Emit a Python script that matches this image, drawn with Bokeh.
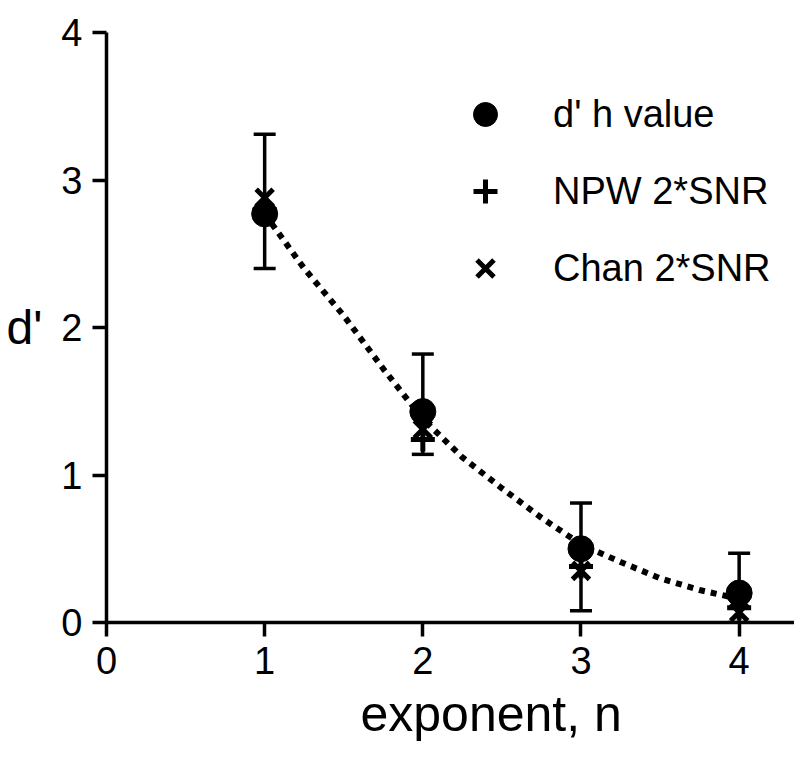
from bokeh.plotting import figure
from bokeh.models import (Range1d, FixedTicker, Whisker, TeeHead, ColumnDataSource,
                          Legend, LegendItem, Title)
from bokeh.embed import file_html
from bokeh.resources import INLINE

# ---- data ----
exponent = [1, 2, 3, 4]
dh_value = [2.77, 1.43, 0.50, 0.20]
dh_upper = [3.31, 1.82, 0.81, 0.47]
dh_lower = [2.40, 1.14, 0.08, 0.0]
npw_2snr = [2.80, 1.24, 0.38, 0.10]
chan_2snr = [2.88, 1.31, 0.35, 0.07]
fit_x = [1.0, 1.25, 1.5, 1.75, 2.0, 2.25, 2.5, 2.75, 3.0, 3.25, 3.5, 3.75, 4.0]
fit_y = [2.77, 2.40, 2.08, 1.72, 1.38, 1.12, 0.91, 0.71, 0.53, 0.41, 0.30, 0.22, 0.16]
x_ticks = [0, 1, 2, 3, 4]
y_ticks = [0, 1, 2, 3, 4]

FONT = "Liberation Sans"

p = figure(width=794, height=756, output_backend="svg", toolbar_location=None,
           x_range=Range1d(0, 4.35), y_range=Range1d(0, 4),
           min_border_left=106, min_border_right=0, min_border_top=32, min_border_bottom=134)
p.outline_line_color = None
p.background_fill_color = "white"
p.border_fill_color = "white"
p.xgrid.visible = False
p.ygrid.visible = False

for ax in (p.xaxis[0], p.yaxis[0]):
    ax.axis_line_width = 3.5
    ax.axis_line_color = "black"
    ax.major_tick_line_width = 3.5
    ax.major_tick_line_color = "black"
    ax.major_tick_out = 14
    ax.major_tick_in = 0
    ax.minor_tick_line_color = None
    ax.major_label_text_font = FONT
    ax.major_label_text_font_size = "38px"
    ax.major_label_text_color = "black"
    ax.major_label_standoff = 10
p.xaxis[0].ticker = FixedTicker(ticks=x_ticks)
p.yaxis[0].ticker = FixedTicker(ticks=y_ticks)

p.yaxis[0].axis_label = "d'"
p.yaxis[0].axis_label_orientation = "horizontal"
p.yaxis[0].axis_label_text_font = FONT
p.yaxis[0].axis_label_text_font_size = "48px"
p.yaxis[0].axis_label_text_font_style = "normal"
p.yaxis[0].axis_label_text_color = "black"
p.yaxis[0].axis_label_standoff = 16

# fitted dotted curve
p.line(fit_x, fit_y, line_color="black", line_width=6, line_dash="6 6")

# error bars
src = ColumnDataSource(dict(x=exponent, y=dh_value, upper=dh_upper, lower=dh_lower))
w = Whisker(source=src, base="x", upper="upper", lower="lower", line_width=3.5,
            line_color="black",
            upper_head=TeeHead(size=22, line_width=3.5, line_color="black"),
            lower_head=TeeHead(size=22, line_width=3.5, line_color="black"))
p.add_layout(w)

r_x = p.scatter(exponent, chan_2snr, marker="x", size=24, line_width=5, line_color="black")
r_plus = p.scatter(exponent, npw_2snr, marker="cross", size=24, line_width=5, line_color="black")
r_dot = p.scatter(exponent, dh_value, marker="circle", size=26, fill_color="black", line_color="black")

legend = Legend(items=[LegendItem(label="d' h value", renderers=[r_dot]),
                       LegendItem(label="NPW 2*SNR", renderers=[r_plus]),
                       LegendItem(label="Chan 2*SNR", renderers=[r_x])],
                location=(349, 324), orientation="vertical")
legend.border_line_color = None
legend.background_fill_alpha = 0
legend.padding = 0
legend.margin = 0
legend.spacing = 17
legend.glyph_width = 60
legend.glyph_height = 60
legend.label_height = 60
legend.label_standoff = 38
legend.label_text_font = FONT
legend.label_text_font_size = "38px"
legend.label_text_color = "black"
legend.label_text_baseline = "middle"
p.add_layout(legend)

xt = Title(text="exponent, n", align="left", offset=254, text_font=FONT,
           text_font_size="50px", text_font_style="normal", text_color="black",
           standoff=14)
p.add_layout(xt, "below")

open("out.html", "w").write(file_html(p, INLINE))
